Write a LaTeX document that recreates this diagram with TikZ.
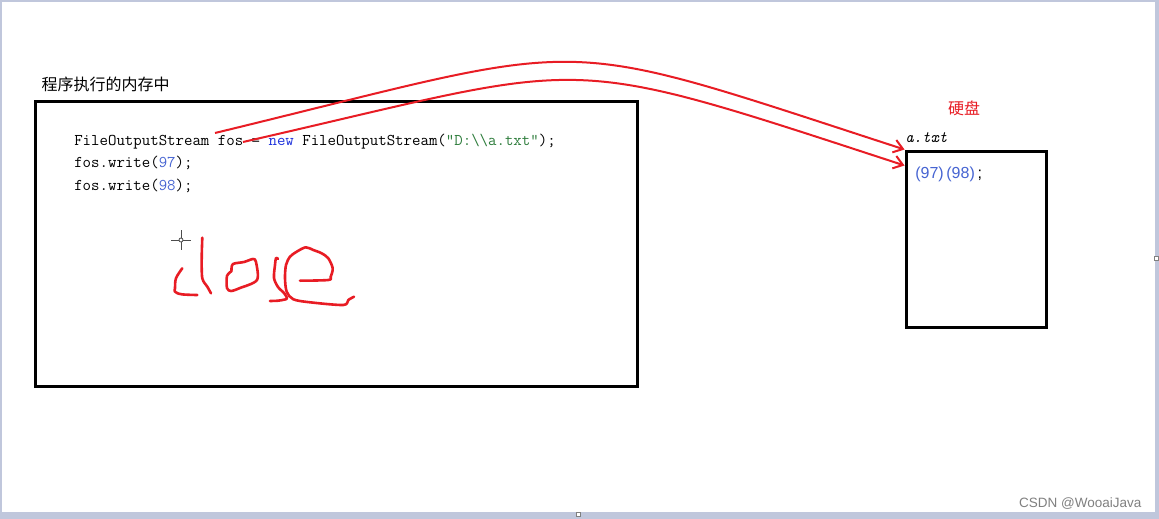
\documentclass[tikz,border=0pt]{standalone}
\usepackage{fontspec}
\usepackage{tikz}
\usetikzlibrary{arrows.meta,positioning}
\setmainfont{Liberation Sans}
\newfontfamily\cjk{Noto Sans CJK SC}
\definecolor{penred}{RGB}{232,28,36}
\definecolor{kwblue}{RGB}{30,50,220}
\definecolor{numblue}{RGB}{70,100,210}
\definecolor{strgreen}{RGB}{46,125,60}
\definecolor{framegrey}{RGB}{192,199,220}
\begin{document}
\begin{tikzpicture}[x=1pt,y=-1pt,>={Straight Barb[length=9pt,width=13pt]},semithick]
\tikzstyle{box}=[draw=black,line width=3pt,rectangle,inner sep=0pt]
\tikzstyle{code}=[anchor=base west,inner sep=0pt,font=\ttfamily\fontsize{16.4}{18}\selectfont]
\tikzstyle{pen}=[draw=penred,line width=2pt]
\tikzstyle{ink}=[penred,line width=2.6pt,line cap=round,line join=round]
% window frame
\fill[framegrey] (0,0) rectangle (1159,519);
\fill[white] (2,2) rectangle (1155,512);
\useasboundingbox (0,0) rectangle (1159,519);
\draw[gray,fill=white] (1154,256) rectangle (1158,260);
\draw[gray,fill=white] (576,512) rectangle (580,516);
% memory
\node[box,minimum width=602pt,minimum height=285pt] (mem) at (336,243.5) {};
\node[anchor=west,font=\cjk\fontsize{16}{18}\selectfont] (memlabel) at (38,84) {程序执行的内存中};
\node[code] (line1) at (74,145) {FileOutputStream fos = \textcolor{kwblue}{new} FileOutputStream(\textcolor{strgreen}{"D:\textbackslash\textbackslash a.txt"});};
\node[code] (line2) at (74,167.5) {fos.write(\textcolor{numblue}{97});};
\node[code] (line3) at (74,190) {fos.write(\textcolor{numblue}{98});};
% disk
\node[box,minimum width=140pt,minimum height=176pt] (disk) at (976,239) {};
\node[font=\cjk\fontsize{16}{18}\selectfont,text=penred] (disklabel) at (964,108) {硬盘};
\node[anchor=base west,inner sep=0pt,font=\ttfamily\itshape\fontsize{16}{18}\selectfont] (fname) at (905,142) {a.txt};
\node[anchor=base west,inner sep=0pt,font=\fontsize{16}{18}\selectfont] (bytes) at (915,178) {\textcolor{numblue}{(97)\,(98)}\,;};
% red arrows
\coordinate (fosA) at (215,133);
\coordinate (fosB) at (243,142);
\coordinate (inB) at ([yshift=-16pt]disk.north west);
\draw[pen,->] (fosA) .. controls (603,39) and (543,32) .. (disk.north west);
\draw[pen,->] (fosB) .. controls (599,61) and (551,50) .. (inB);
% handwriting
\draw[ink] plot[smooth,tension=0.6] coordinates {(182.3,268.3) (176,278.3) (175,288.3) (175,291.7) (181.7,294.3) (197.3,295)};
\draw[ink] plot[smooth] coordinates {(202.3,237.7) (201.7,258.3) (202.3,278.3) (207.3,286.7) (211,293.3)};
\draw[ink] plot[smooth] coordinates {(231.7,271) (227,276) (227,288) (231,291) (240,288) (257,280) (256,262) (253,259) (244,262) (233,264) (231.5,270)};
\draw[ink] plot[smooth] coordinates {(278,259) (276,258) (275,265) (274,278) (278,287) (284,293) (287,298) (285,299.5) (278,300.7) (270,301)};
\draw[ink] plot[smooth] coordinates {(300,280.7) (328.3,280) (330.7,276.7) (332.7,268.3) (328.3,258.3) (321.7,253.3) (313.3,250) (305.7,247.3) (296.7,251.7) (290,256.7) (286,265) (285,278.3) (286.7,291.7) (293.3,299.3) (310,302.3) (343.3,305) (348.3,300) (354,296.7)};
% cursor
\draw[gray!60!black,line width=1pt] (171,240) -- (191,240) (181,230) -- (181,250);
\draw[gray!60!black,fill=white,line width=0.8pt] (181,240) circle (2pt);
\node[anchor=east,text=gray,font=\fontsize{13.5}{15}\selectfont] (mark) at (1145,504) {CSDN @WooaiJava};
\end{tikzpicture}
\end{document}
